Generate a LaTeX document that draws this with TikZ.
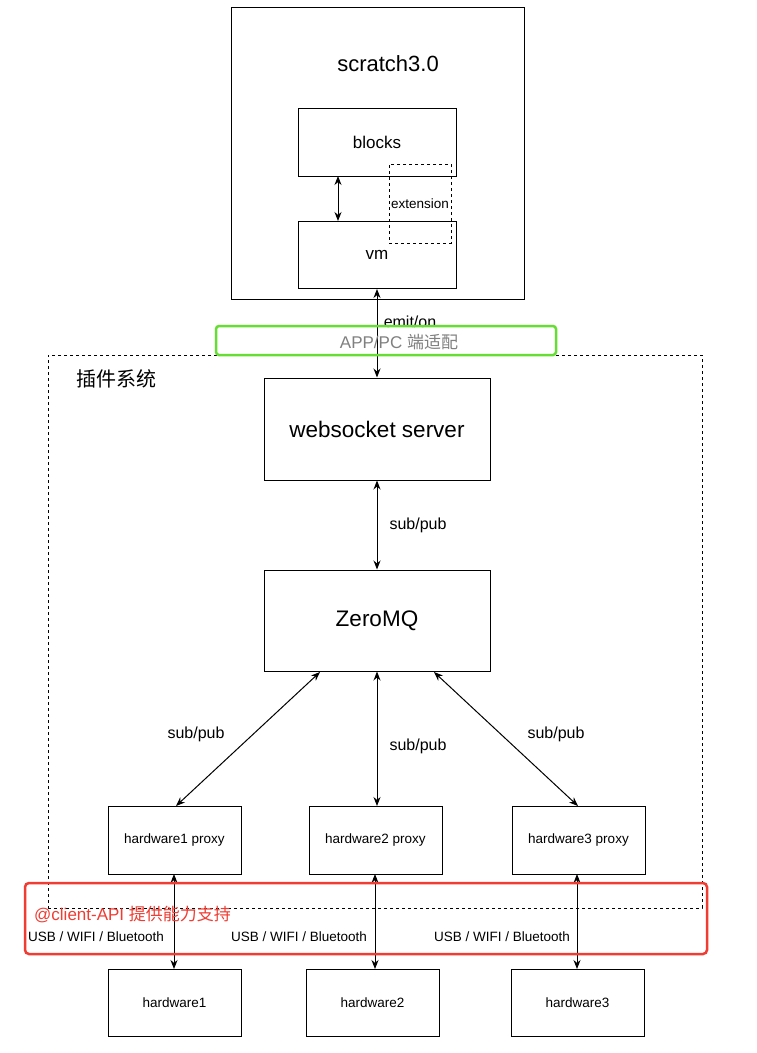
\documentclass[tikz,border=0pt]{standalone}
\usepackage{fontspec}
\setmainfont{Liberation Sans}
\newfontfamily\cjk{Noto Sans CJK SC}
\usetikzlibrary{arrows.meta}
\definecolor{grn}{HTML}{66DD33}
\definecolor{rd}{HTML}{F03C32}
\begin{document}
\begin{tikzpicture}[x=1pt,y=-1pt,
  box/.style={draw,line width=1pt,inner sep=0pt},
  arr/.style={{Stealth[length=9pt,width=7pt]}-{Stealth[length=9pt,width=7pt]},line width=1pt},
  lbl/.style={font=\fontsize{16}{18}\selectfont,inner sep=1pt}]
\useasboundingbox[fill=white] (0,0) rectangle (756,1053);
\node[box,minimum width=293pt,minimum height=292pt] (scr) at (377.5,153) {};
\node[font=\fontsize{22}{26}\selectfont] at (388,64) {scratch3.0};
\node[box,minimum width=158pt,minimum height=68pt,font=\fontsize{17}{19}\selectfont] (blk) at (377,142) {blocks};
\node[box,minimum width=158pt,minimum height=67pt,font=\fontsize{17}{19}\selectfont] (vm) at (377,255) {vm};
\node[draw,dashed,line width=1pt,minimum width=62pt,minimum height=79pt,font=\fontsize{13.5}{15}\selectfont,inner sep=0pt] (ext) at (420,203.5) {extension};
\coordinate (b1) at (338,176); \coordinate (v1) at (338,221);
\draw[arr] (b1) -- (v1);
\node[draw,dashed,line width=0.8pt,minimum width=654pt,minimum height=553pt,inner sep=0pt] (plg) at (375,631.5) {};
\node[font=\cjk\fontsize{20}{22}\selectfont,anchor=west] at (73,379) {插件系统};
\node[box,minimum width=226pt,minimum height=102pt,font=\fontsize{22.5}{26}\selectfont] (ws) at (377,429) {websocket server};
\node[box,minimum width=226pt,minimum height=101pt,font=\fontsize{22.5}{26}\selectfont] (zmq) at (377,620.5) {ZeroMQ};
\draw[arr] (vm.south) -- (ws.north);
\node[lbl] at (410,322) {emit/on};
\draw[arr] (ws.south) -- (zmq.north);
\node[lbl] at (418,525) {sub/pub};
\foreach \i/\x/\hx in {1/174.5/174.5,2/375.5/372.5,3/578.5/577.5}{
  \node[box,minimum width=133pt,minimum height=68pt,font=\fontsize{13.5}{15}\selectfont] (p\i) at (\x,840) {hardware\i{} proxy};
  \node[box,minimum width=133pt,minimum height=67pt,font=\fontsize{13.5}{15}\selectfont] (h\i) at (\hx,1002.5) {hardware\i};
}
\coordinate (z1) at (320,672); \coordinate (z3) at (434,672);
\coordinate (q1) at (176,806); \coordinate (q2) at (377,806); \coordinate (q3) at (578,806);
\draw[arr] (z1) -- (q1);
\draw[arr] (zmq.south) -- (q2);
\draw[arr] (z3) -- (q3);
\node[lbl] at (196,734) {sub/pub};
\node[lbl] at (418,746) {sub/pub};
\node[lbl] at (556,734) {sub/pub};
\foreach \x/\i in {174/1,375/2,577/3}{
  \coordinate (s\i) at (\x,874); \coordinate (t\i) at (\x,969);
  \draw[arr] (s\i) -- (t\i);
}
\node[draw=grn,line width=2.5pt,rounded corners=3pt,minimum width=340pt,minimum height=29pt,inner sep=0pt] (app) at (386,340.5) {};
\node[font=\fontsize{17}{19}\selectfont,text=gray] at (399,342) {APP/PC {\cjk 端适配}};
\node[draw=rd,line width=2.5pt,rounded corners=4pt,minimum width=682pt,minimum height=71pt,inner sep=0pt] (api) at (366,918.5) {};
\node[anchor=west,text=rd,font=\fontsize{17}{19}\selectfont,inner sep=0pt] at (34,915) {@client-API {\cjk 提供能力支持}};
\foreach \x in {96,299,502}
  \node[font=\fontsize{13.5}{15}\selectfont,inner sep=0pt] at (\x,937) {USB / WIFI / Bluetooth};
\end{tikzpicture}
\end{document}
